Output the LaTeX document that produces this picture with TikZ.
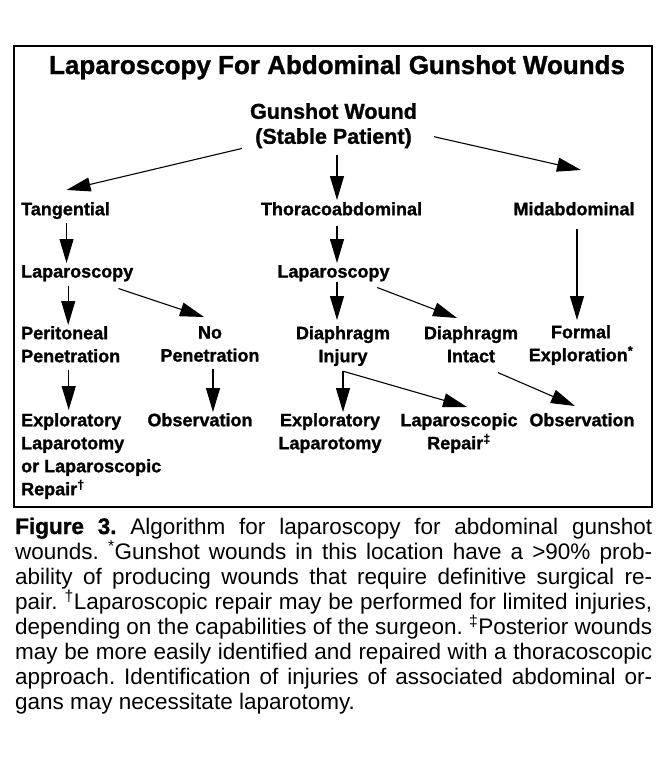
\documentclass[tikz,border=0pt]{standalone}
\usepackage{fontspec}
\setmainfont{Liberation Sans}[BoldFeatures={FakeBold=1.2}]
\usetikzlibrary{arrows.meta}
\frenchspacing

\begin{document}
\begin{tikzpicture}[x=1pt,y=-1pt,
    every node/.style={inner sep=0pt,align=center,font=\bfseries\fontsize{18}{23}\selectfont},
    arr/.style={-{Triangle[length=24pt,width=14pt]},line width=1.1pt}]
  \useasboundingbox (0,0) rectangle (666,763);
  \draw[line width=1.4pt] (14,46) rectangle (652,507);
  \node[anchor=north,font=\bfseries\fontsize{26}{30}\selectfont] (title) at (337,55) {Laparoscopy For Abdominal Gunshot Wounds};
  \node[anchor=north,font=\bfseries\fontsize{21.5}{25}\selectfont] (root) at (333.5,103) {Gunshot Wound\\(Stable Patient)};
  \node[anchor=north west] (tang) at (21,202) {Tangential};
  \node[anchor=north] (thor) at (341.5,202) {Thoracoabdominal};
  \node[anchor=north] (mid) at (574,202) {Midabdominal};
  \node[anchor=north west] (lap1) at (21,265) {Laparoscopy};
  \node[anchor=north] (lap2) at (333.5,265) {Laparoscopy};
  \node[anchor=north west,align=left] (perit) at (21,326) {Peritoneal\\Penetration};
  \node[anchor=north] (nopen) at (210,326) {No\\Penetration};
  \node[anchor=north] (dinj) at (343,326) {Diaphragm\\Injury};
  \node[anchor=north] (dint) at (471,326) {Diaphragm\\Intact};
  \node[anchor=north] (formal) at (581,325) {Formal\\Exploration\textsuperscript{*}};
  \node[anchor=north west,align=left] (explap1) at (21,413) {Exploratory\\Laparotomy\\or Laparoscopic\\Repair\textsuperscript{†}};
  \node[anchor=north] (obs1) at (200,413) {Observation};
  \node[anchor=north] (explap2) at (330,413) {Exploratory\\Laparotomy};
  \node[anchor=north] (laprep) at (459,413) {Laparoscopic\\Repair\textsuperscript{‡}};
  \node[anchor=north] (obs2) at (582,413) {Observation};

  \draw[arr] ([xshift=-8pt]root.south west) -- ([xshift=1pt,yshift=12pt]tang.north);
  \draw[arr] ([xshift=3.5pt,yshift=-7pt]root.south) -- ([xshift=-4.5pt,yshift=2pt]thor.north);
  \draw[arr] ([xshift=17pt,yshift=-11pt]root.east) -- ([xshift=7pt,yshift=32pt]mid.north);
  \draw[arr] ([xshift=1pt,yshift=-4pt]tang.south) -- ([xshift=1pt,yshift=2pt]tang.south |- lap1.north);
  \draw[arr] ([xshift=-4.5pt,yshift=-10pt]thor.south) -- ([xshift=-4.5pt,yshift=2pt]thor.south |- lap2.north);
  \draw[arr] ([xshift=3pt,yshift=-13pt]mid.south) -- ([xshift=3pt,yshift=5pt]mid.south |- formal.north);
  \draw[arr] ([xshift=-9pt,yshift=-4pt]lap1.south) -- ([xshift=-9pt,yshift=1pt]lap1.south |- perit.north);
  \draw[arr] ([xshift=-15pt,yshift=-7pt]lap1.south east) -- ([xshift=-6pt,yshift=9pt]nopen.north);
  \draw[arr] ([xshift=3.5pt]lap2.south) -- ([xshift=3.5pt,yshift=6pt]lap2.south |- dinj.north);
  \draw[arr] ([xshift=-12.5pt,yshift=-6pt]lap2.south east) -- ([xshift=-14pt,yshift=8pt]dint.north);
  \draw[arr] ([xshift=-2pt,yshift=-7pt]perit.south) -- ([xshift=-2pt,yshift=3pt]perit.south |- explap1.north);
  \draw[arr] ([xshift=3pt,yshift=-7pt]nopen.south) -- ([xshift=3pt,yshift=1pt]nopen.south |- obs1.north);
  \coordinate (br) at ([yshift=-5pt]dinj.south);
  \draw[arr] (br) -- ([yshift=1pt]br |- explap2.north);
  \draw[arr] (br) -- ([xshift=8pt,yshift=6pt]laprep.north);
  \draw[arr] ([xshift=27pt,yshift=-10pt]dint.south) -- ([xshift=-7pt,yshift=7pt]obs2.north);

  \node[anchor=north west,text width=637pt,align=justify,font=\fontsize{22.5}{25}\selectfont] (caption) at (15,517.5)
    {{\bfseries Figure 3.} Algorithm for laparoscopy for abdominal gunshot\linebreak
    wounds. \textsuperscript{*}Gunshot wounds in this location have a >90\% prob-\linebreak
    ability of producing wounds that require definitive surgical re-\linebreak
    pair. \textsuperscript{†}Laparoscopic repair may be performed for limited injuries,\linebreak
    depending on the capabilities of the surgeon. \textsuperscript{‡}Posterior wounds\linebreak
    may be more easily identified and repaired with a thoracoscopic\linebreak
    approach. Identification of injuries of associated abdominal or-\linebreak
    gans may necessitate laparotomy.};
\end{tikzpicture}
\end{document}
